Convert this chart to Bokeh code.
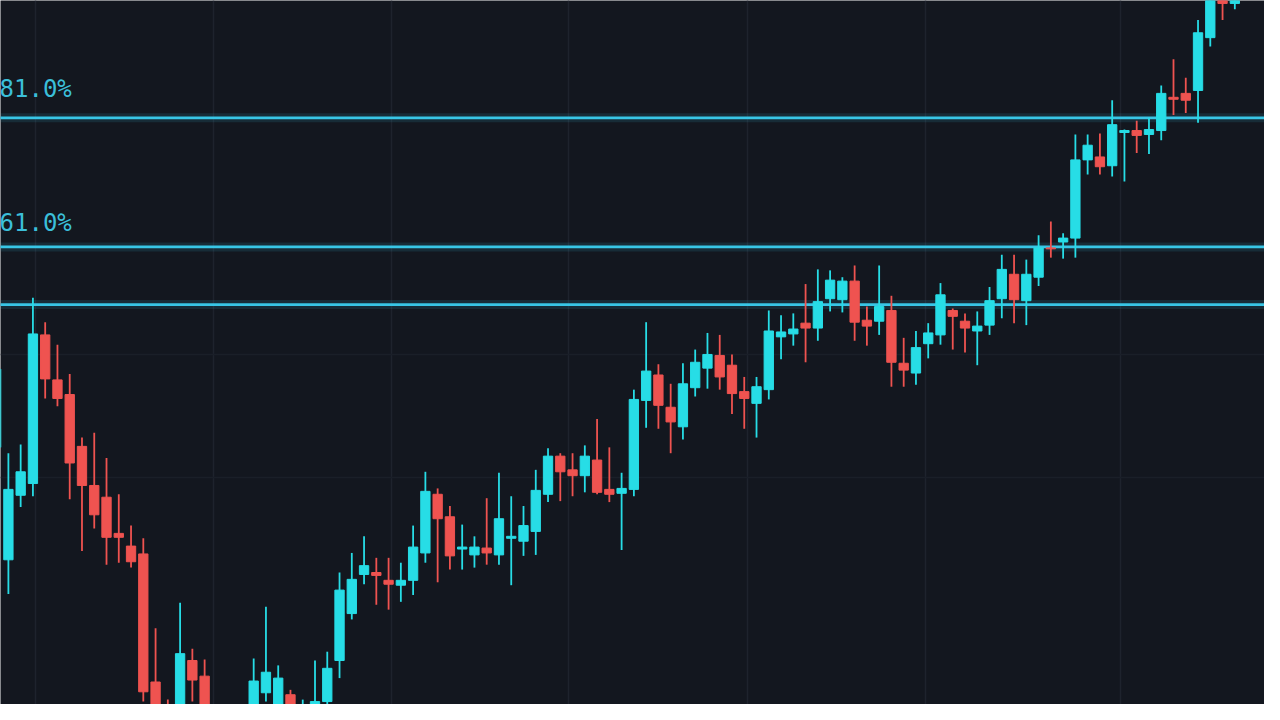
from bokeh.plotting import figure
from bokeh.models import ColumnDataSource, Range1d, FixedTicker
from bokeh.embed import file_html
from bokeh.resources import INLINE
from bokeh.core.properties import value

# ---- data -------------------------------------------------------------
idx = list(range(-1, 101))
opens = [263, 148, 214, 226, 378, 332, 317, 264, 224, 212, 175, 162, 154, 23, -10, -30, 45, 29,
         -20, -50, -35, -15, 12, -20, 10, -25, -10, 3, 45, 93, 133, 135, 127, 122, 127, 155,
         215, 192, 159, 153, 160, 153, 170, 167, 177, 215, 254, 240, 234, 250, 220, 216, 220,
         311, 337, 304, 284, 324, 344, 357, 347, 320, 308, 322, 376, 379, 390, 385, 415, 414,
         433, 393, 392, 403, 349, 339, 369, 378, 403, 392, 382, 388, 415, 440, 413, 437, 467,
         473, 477, 557, 560, 551, 585, 587, 583, 587, 621, 625, 628, 682, 721, 717]
highs = [350, 257, 266, 416, 391, 368, 338, 273, 278, 252, 215, 183, 170, 78, 5, 104, 57, 46,
         -10, -20, 0, 47, 100, 40, 15, 5, 45, 54, 135, 155, 172, 150, 150, 145, 183, 238,
         221, 203, 184, 172, 211, 237, 213, 203, 240, 262, 257, 257, 265, 292, 263, 237, 322,
         391, 348, 328, 349, 363, 380, 378, 358, 335, 335, 403, 398, 400, 430, 445, 444, 437,
         449, 407, 449, 418, 375, 382, 390, 431, 405, 400, 402, 427, 460, 460, 455, 480, 494,
         482, 583, 583, 584, 618, 588, 597, 600, 633, 660, 641, 700, 735, 735, 735]
lows = [250, 113, 202, 213, 313, 305, 210, 157, 180, 143, 145, 140, 3, -25, -50, -40, 3, -30,
        -55, -60, -45, -25, 3, -30, -35, -40, -20, -5, 27, 87, 123, 102, 97, 105, 112, 145,
        125, 138, 138, 140, 143, 143, 122, 152, 153, 207, 208, 213, 217, 215, 207, 158, 213,
        283, 282, 257, 271, 315, 323, 322, 297, 282, 273, 312, 353, 367, 350, 372, 402, 401,
        372, 367, 378, 325, 325, 327, 354, 368, 363, 360, 347, 378, 395, 390, 388, 428, 457,
        456, 457, 542, 542, 540, 535, 564, 563, 577, 603, 605, 595, 673, 700, 711]
closes = [343, 220, 238, 379, 333, 313, 247, 224, 194, 171, 171, 146, 13, -15, -40, 52, 25, -20,
          -45, -30, -10, 24, 33, 27, -25, -5, 3, 37, 117, 128, 142, 132, 123, 127, 161, 218,
          190, 152, 161, 161, 155, 190, 172, 183, 219, 254, 238, 234, 254, 217, 215, 221, 312,
          341, 306, 289, 328, 350, 358, 335, 318, 313, 325, 382, 381, 384, 385, 412, 434, 433,
          391, 387, 407, 350, 342, 365, 380, 419, 397, 385, 387, 413, 445, 414, 440, 467, 466,
          477, 557, 572, 550, 593, 587, 582, 588, 625, 619, 618, 687, 725, 717, 720]

fib_levels = [600, 468, 409]
fib_labels = ["81.0%", "61.0%"]
fib_label_y = [629, 492]
grid_x = [2.2, 16.7, 31.2, 45.7, 60.3, 74.8, 90.7]
grid_y = [232, 358]

# ---- styling ----------------------------------------------------------
BG = "#13171f"
UP = "#27dde6"
DOWN = "#ef5350"
FIB = "#38c6e6"

colors = [UP if c >= o else DOWN for o, c in zip(opens, closes)]
src = ColumnDataSource(dict(
    x=idx, o=opens, h=highs, l=lows, c=closes,
    top=[max(o, c) for o, c in zip(opens, closes)],
    bottom=[min(o, c) for o, c in zip(opens, closes)],
    color=colors,
))

p = figure(width=1264, height=704, output_backend="svg", toolbar_location=None,
           x_range=Range1d(-0.644, 102.42), y_range=Range1d(0, 720),
           background_fill_color=BG, border_fill_color=BG, min_border=0,
           outline_line_color=None)
p.xaxis.visible = False
p.yaxis.visible = False
p.xaxis.ticker = FixedTicker(ticks=grid_x)
p.yaxis.ticker = FixedTicker(ticks=grid_y)
p.xgrid.grid_line_color = "#1e232d"
p.ygrid.grid_line_color = "#1a1f28"
p.xgrid.grid_line_width = 1.5
p.ygrid.grid_line_width = 1.5

# fib level lines with soft glow
for lvl in fib_levels:
    p.line(x=[-5, 110], y=[lvl, lvl], line_color=FIB, line_width=9, line_alpha=0.12)
    p.line(x=[-5, 110], y=[lvl, lvl], line_color=FIB, line_width=2.8)

p.segment(x0="x", y0="l", x1="x", y1="h", source=src, line_color="color", line_width=1.8)
p.vbar(x="x", top="top", bottom="bottom", width=0.76, source=src,
       fill_color="color", line_color="color", line_width=1)

p.text(x=[-0.72] * len(fib_labels), y=fib_label_y, text=fib_labels,
       text_font=value("DejaVu Sans Mono"), text_font_size="24px",
       text_color="#3bbfd9", text_baseline="alphabetic", text_align="left")

open("out.html", "w").write(file_html(p, INLINE))
